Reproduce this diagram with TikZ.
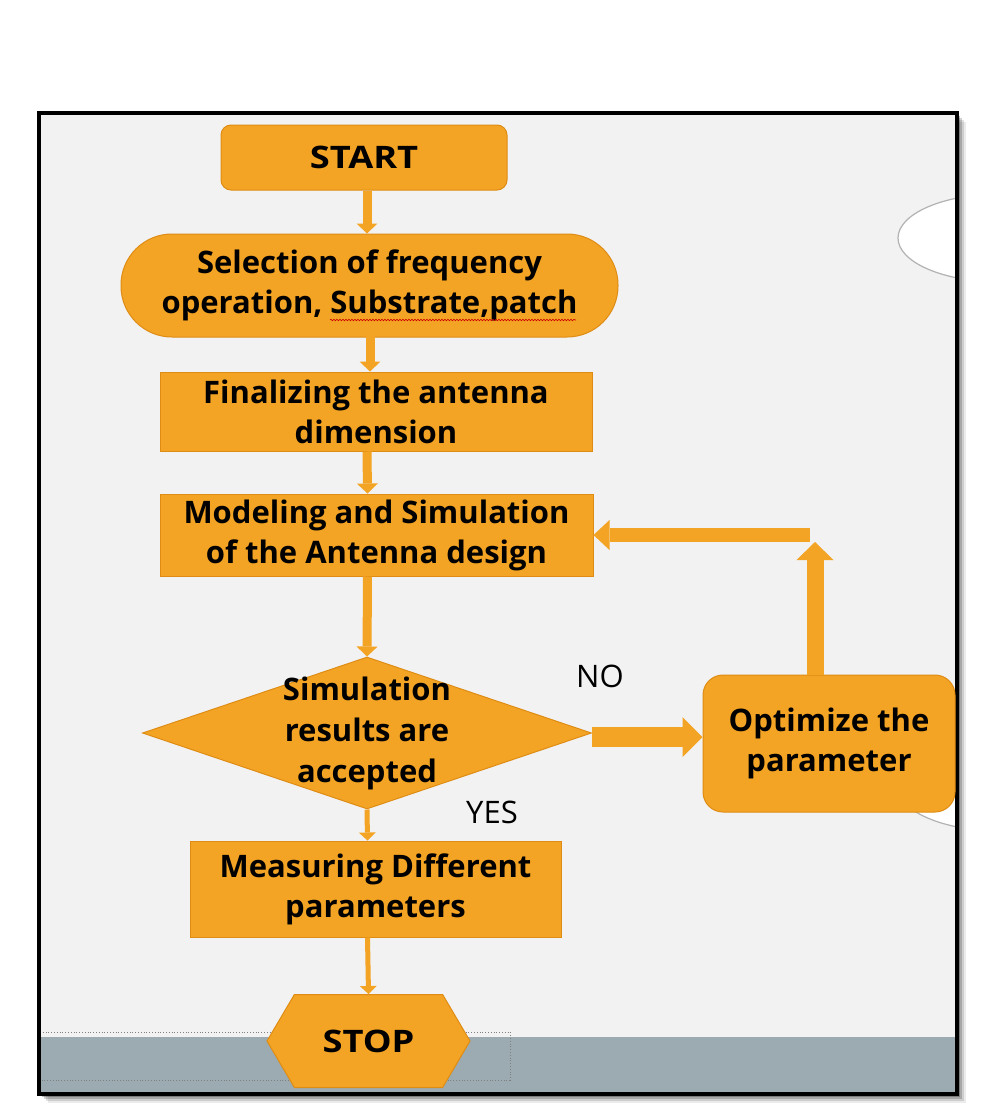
\documentclass[tikz,border=0pt]{standalone}
\usepackage{fontspec}
\setmainfont{Open Sans}
\usetikzlibrary{arrows.meta,shapes.geometric,shapes.symbols,decorations.pathmorphing,calc}
\definecolor{orfill}{RGB}{244,164,36}
\definecolor{ordraw}{RGB}{222,140,20}
\definecolor{bgin}{RGB}{242,242,242}
\definecolor{band}{RGB}{155,171,177}
\tikzset{
  box/.style={draw=ordraw, fill=orfill, line width=1pt, align=center, inner sep=0pt,
    font=\fontsize{31}{40}\selectfont\bfseries},
  wide/.style={font=\fontsize{31}{40}\selectfont\bfseries\addfontfeatures{FakeStretch=1.17}},
  barrow/.style={draw=orfill, line width=9pt, -{Triangle[width=21pt,length=10pt,line width=0pt]}},
  sarrow/.style={draw=orfill, line width=5pt, -{Triangle[width=17pt,length=8pt,line width=0pt]}},
  harrow/.style={draw=orfill, line width=20pt, -{Triangle[width=40pt,length=20pt,line width=0pt]}},
  varrow/.style={draw=orfill, line width=17pt, -{Triangle[width=37pt,length=18pt,line width=0pt]}},
  larrow/.style={draw=orfill, line width=14pt, -{Triangle[width=30pt,length=16pt,line width=0pt]}},
  lbl/.style={font=\fontsize{31}{36}\selectfont, inner sep=0pt}
}
\begin{document}
\begin{tikzpicture}[x=1pt,y=-1pt]
\useasboundingbox (0,0) rectangle (994,1119);
\fill[white] (0,0) rectangle (994,1119);
% shadow
\foreach \o/\op in {9/0.08,7/0.12,5/0.18,3/0.25}{
  \fill[black,opacity=\op] (39+\o,113+\o) rectangle (957+\o,1094+\o);
}
% inner background
\fill[bgin] (39,113) rectangle (957,1094);
\fill[band] (39,1037) rectangle (957,1094);
% right-side ellipses
\begin{scope}
  \clip (39,113) rectangle (957,1094);
  \fill[white] (1000,238) ellipse [x radius=102, y radius=44];
  \draw[gray!60, line width=1.2pt] (1000,238) ellipse [x radius=102, y radius=44];
  \fill[white] (1000,787) ellipse [x radius=102, y radius=44];
  \draw[gray!60, line width=1.2pt] (1000,787) ellipse [x radius=102, y radius=44];
\end{scope}
% dotted box
\draw[gray, dotted, line width=0.8pt] (40,1032) -- (510,1032) -- (510,1080) -- (40,1080);
% frame
\draw[black, line width=3.5pt] (39,113) rectangle (957,1094);

% nodes
\node[box, wide, rounded corners=10pt, minimum width=286pt, minimum height=65pt] (start) at (364,157.5) {START};
\node[box, rounded corners=51pt, minimum width=497pt, minimum height=103pt] (sel) at (369.5,285.5) {Selection of frequency\\operation, Substrate,patch};
\node[box, minimum width=432pt, minimum height=79pt] (fin) at (376,411.5) {Finalizing the antenna\\dimension};
\node[box, minimum width=433pt, minimum height=82pt] (model) at (376.5,535) {Modeling and Simulation\\of the Antenna design};
\node[box, diamond, minimum width=449pt, minimum height=152pt,
  label={[font=\fontsize{31}{41}\selectfont\bfseries, align=center]center:Simulation\\results are\\accepted}] (dec) at (367,733) {};
\node[box, minimum width=371pt, minimum height=96pt] (meas) at (375.5,889) {Measuring Different\\parameters};
\node[box, rounded corners=20pt, minimum width=252pt, minimum height=137pt] (opt) at (829,743.5) {Optimize the\\parameter};
\node[box, wide, signal, signal to=east and west, signal pointer angle=119, minimum width=203pt, minimum height=93pt] (stop) at (368.5,1041) {STOP};

\node[lbl] (no) at (600,676) {NO};
\node[lbl] (yes) at (492,812) {YES};

% squiggle
\draw[red!80!black, line width=0.6pt, decorate, decoration={snake, amplitude=0.8pt, segment length=3pt}] (330,320) -- (576,320);

% connectors
\draw[barrow] ([xshift=3pt]start.south) -- ([xshift=-2.5pt]sel.north);
\draw[barrow] ([xshift=0.5pt,yshift=4pt]sel.south) -- ([xshift=-6pt]fin.north);
\draw[barrow] ([xshift=-9pt]fin.south) -- ([xshift=-9pt]model.north);
\draw[barrow] ([xshift=-9pt]model.south) -- (dec.north);
\draw[sarrow] (dec.south) -- ([xshift=-8pt]meas.north);
\draw[sarrow] ([xshift=-8pt]meas.south) -- (stop.north);
\draw[harrow] ($(dec.east)+(0,4)$) -- ($(dec.east -| opt.west)+(0,4)$);
\coordinate (looptip) at (815,542);
\coordinate (loopstart) at (810,535);
\draw[varrow] (looptip |- opt.north) -- (looptip);
\draw[larrow] (loopstart) -- (model.east);
\end{tikzpicture}
\end{document}
